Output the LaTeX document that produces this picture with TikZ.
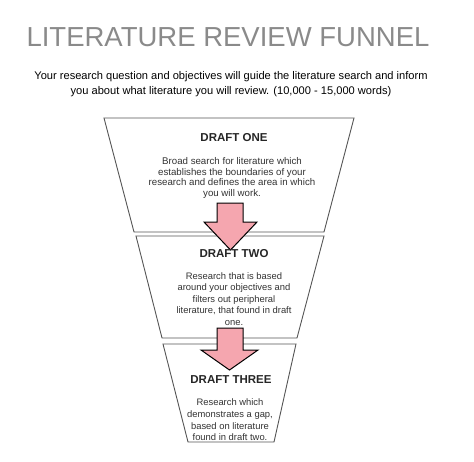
\documentclass[tikz,border=0pt]{standalone}
\usepackage{fontspec}
\setmainfont{Liberation Sans}
\definecolor{titlegray}{RGB}{138,138,138}
\definecolor{arrowpink}{RGB}{245,166,175}
\definecolor{edgegray}{RGB}{85,85,85}
\begin{document}
\begin{tikzpicture}[x=1pt,y=-1pt,
  funnelbox/.style={draw=edgegray,line width=0.9pt,fill=white,line join=miter},
  pinkarrow/.style={draw=black,line width=1pt,fill=arrowpink,line join=miter},
  heading/.style={font=\fontsize{11.5}{13}\selectfont\bfseries,text=black!85,inner sep=0pt},
  bodytext/.style={align=center,text=black!80,inner sep=0pt}]
\useasboundingbox (0,0) rectangle (474,461);
% title and intro
\node[text=titlegray,font=\fontsize{27.5}{30}\selectfont,inner sep=0pt] (title) at (228,37) {LITERATURE REVIEW FUNNEL};
\node[bodytext,text=black,font=\fontsize{11.1}{15}\selectfont] (intro) at (231,84)
  {Your research question and objectives will guide the literature search and inform\\you about what literature you will review. (10,000 - 15,000 words)};
% funnel boxes
\draw[funnelbox] (104,118) coordinate (a1) -- (354,118) coordinate (a2) -- (324,232) coordinate (a3) -- (134,232) coordinate (a4) -- cycle;
\draw[funnelbox] (136,236) coordinate (b1) -- (324,236) coordinate (b2) -- (297,338) coordinate (b3) -- (162,338) coordinate (b4) -- cycle;
\draw[funnelbox] (163,344) coordinate (c1) -- (296,344) coordinate (c2) -- (274,442) coordinate (c3) -- (188,442) coordinate (c4) -- cycle;
% arrows
\draw[pinkarrow] (217,203) -- (243,203) -- (243,222) -- (257,222) -- (230.5,250) -- (204,222) -- (217,222) -- cycle;
\draw[pinkarrow] (217,328) -- (243,328) -- (243,350) -- (258,350) -- (229.5,370) -- (201,350) -- (217,350) -- cycle;
% texts
\node[heading] (h1) at (234,138) {DRAFT ONE};
\node[bodytext,font=\fontsize{9.7}{10.8}\selectfont] (t1) at (232,178)
  {Broad search for literature which\\establishes the boundaries of your\\research and defines the area in which\\you will work.};
\node[heading] (h2) at (234,254) {DRAFT TWO};
\node[bodytext,font=\fontsize{9.4}{11.6}\selectfont] (t2) at (234,299)
  {Research that is based\\around your objectives and\\filters out peripheral\\literature, that found in draft\\one.};
\node[heading] (h3) at (231,380) {DRAFT THREE};
\node[bodytext,font=\fontsize{9.4}{11.6}\selectfont] (t3) at (230,420)
  {Research which\\demonstrates a gap,\\based on literature\\found in draft two.};
\end{tikzpicture}
\end{document}
